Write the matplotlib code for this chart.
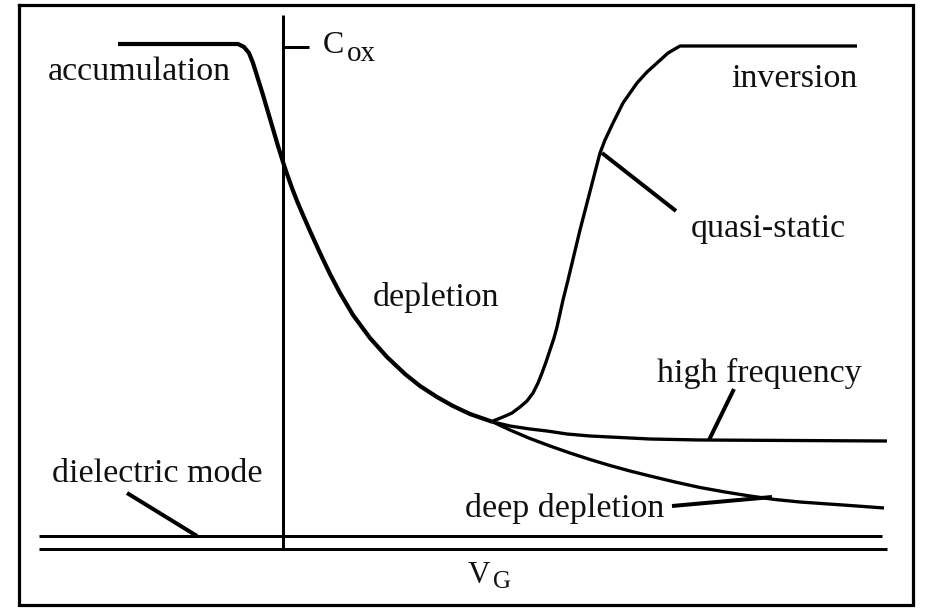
import matplotlib
matplotlib.use("Agg")
import matplotlib.pyplot as plt

# ---- data (picture coordinates: x = gate voltage axis, y = capacitance, downward) ----
# main curve: accumulation plateau -> depletion -> branch point
main_x = [118, 238, 244, 249, 253, 258, 263, 268, 273, 278, 283, 287, 292, 297, 303, 310,
          320, 330, 340, 353, 370, 387, 405, 420, 437, 453, 470, 493]
main_y = [44, 44, 47, 53, 63, 79, 95, 112, 129, 146, 162, 174, 188, 201, 215, 231,
          253, 274, 293, 315, 338, 357, 374, 386, 397, 406, 414, 422]

# high-frequency branch
hf_x = [493, 510, 530, 547, 567, 590, 610, 650, 700, 887]
hf_y = [422, 426, 429, 431, 434, 436, 437, 439, 440, 441]

# deep depletion branch
dd_x = [493, 510, 530, 550, 570, 590, 610, 630, 650, 675, 700, 725, 750, 775, 800, 850, 884]
dd_y = [422, 430, 438.5, 446, 453, 459.5, 465.5, 471, 476, 482, 487.5, 492, 496, 499.5, 502, 505.5, 508]

# quasi-static branch -> inversion plateau
qs_x = [493, 503, 512, 520, 527, 533, 538, 542, 546, 550, 554, 557, 563, 568, 574, 580, 587,
        594, 600, 605, 613, 623, 637, 647, 657, 668, 680, 857]
qs_y = [421, 417, 413, 407, 401, 393, 383, 373, 362, 350, 338, 327, 300, 280, 255, 230, 203,
        176, 153, 140, 123, 103, 83, 72, 63, 53, 46, 46]

# leader lines (start, end)
leaders = {
    "quasi": ([602, 676], [153, 211]),
    "hf": ([734, 709], [389, 440]),
    "dd": ([672, 772], [506, 497]),
    "diel": ([127, 197], [493, 536]),
}

# axes lines
vaxis_x, vaxis_y = [283, 283], [15, 549]
cox_x, cox_y = [283, 309], [47, 47]
diel_line_x, diel_line_y = [39, 882], [536, 536]
vg_line_x, vg_line_y = [39, 887], [549, 549]
frame_x = [19, 913, 913, 19, 19]
frame_y = [5, 5, 605, 605, 5]

# labels: (text, x, y baseline, ha)
labels = [
    ("accumulation", 48, 80, "left"),
    ("inversion", 857, 87, "right"),
    ("quasi-static", 846, 237, "right"),
    ("depletion", 373, 306, "left"),
    ("high frequency", 862, 382, "right"),
    ("deep depletion", 465, 517, "left"),
    ("dielectric mode", 52, 482, "left"),
]

PX = 0.72  # points per pixel at dpi 100
FONT = "Liberation Serif"
TXT = "#111111"

fig = plt.figure(figsize=(9.29, 6.14), dpi=100)
ax = fig.add_axes([0, 0, 1, 1])
ax.set_xlim(0, 929)
ax.set_ylim(614, 0)
ax.axis("off")

kw_thick = dict(color="black", lw=4.2 * PX, solid_joinstyle="round", solid_capstyle="butt")
kw_mid = dict(color="black", lw=3.3 * PX, solid_joinstyle="round", solid_capstyle="butt")
kw_thin = dict(color="black", lw=3.0 * PX, solid_capstyle="butt")

ax.plot(frame_x, frame_y, color="black", lw=3.2 * PX, solid_joinstyle="miter")
ax.plot(main_x, main_y, **kw_thick)
ax.plot(hf_x, hf_y, **kw_mid)
ax.plot(dd_x, dd_y, **kw_mid)
ax.plot(qs_x, qs_y, **kw_mid)
for lx, ly in leaders.values():
    ax.plot(lx, ly, color="black", lw=4.0 * PX, solid_capstyle="butt")
ax.plot(vaxis_x, vaxis_y, **kw_thin)
ax.plot(cox_x, cox_y, **kw_thin)
ax.plot(diel_line_x, diel_line_y, **kw_thin)
ax.plot(vg_line_x, vg_line_y, **kw_thin)

fs = 34 * PX
for txt, x, y, ha in labels:
    ax.text(x, y, txt, ha=ha, va="baseline", fontsize=fs, family=FONT, color=TXT)

# C_ox
ax.text(323, 53, "C", ha="left", va="baseline", fontsize=32 * PX, family=FONT, color=TXT)
ax.text(347, 61, "ox", ha="left", va="baseline", fontsize=29 * PX, family=FONT, color=TXT)
# V_G
ax.text(468, 583, "V", ha="left", va="baseline", fontsize=31 * PX, family=FONT, color=TXT)
ax.text(493, 588, "G", ha="left", va="baseline", fontsize=25 * PX, family=FONT, color=TXT)

fig.savefig("out.png", dpi=100)
